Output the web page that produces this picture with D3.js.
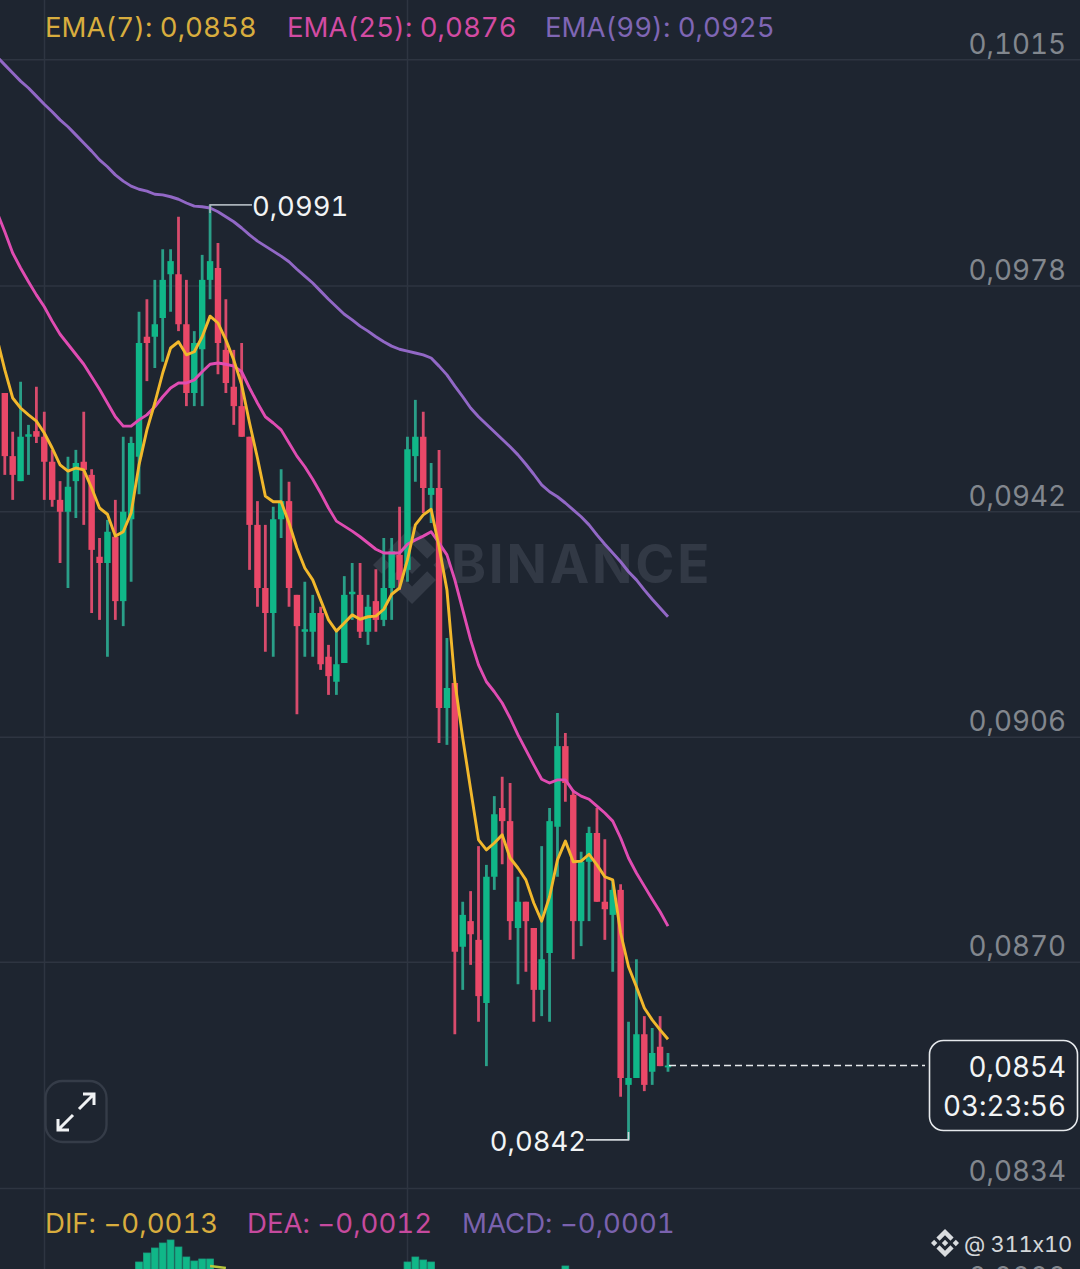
<!DOCTYPE html>
<html>
<head>
<meta charset="utf-8">
<script src="https://cdn.jsdelivr.net/npm/d3@7"></script>
<style>
html, body { margin: 0; padding: 0; background: #1e2530; overflow: hidden; }
svg { display: block; }
text { font-family: Inter, "Noto Sans", sans-serif; font-feature-settings: "tnum" 1, "calt" 0; }
</style>
</head>
<body>
<script>
// Candles, one entry per period
const opens = [0.09612,0.09511,0.09471,0.09542,0.09551,0.09542,0.09502,0.09441,0.09422,0.09471,
0.09502,0.09481,0.0935,0.0934,0.09382,0.09279,0.0941,0.0951,0.09702,0.09702,
0.09732,0.09802,0.09802,0.09722,0.09612,0.09682,0.09793,0.09812,0.09681,0.09622,
0.09591,0.09542,0.09401,0.093,0.0926,0.0941,0.09439,0.09289,0.0923,0.0923,
0.0926,0.0919,0.0915,0.0918,0.0929,0.09289,0.0923,0.09279,0.09249,0.093,
0.09353,0.09329,0.09511,0.09542,0.09449,0.0946,0.09108,0.09148,0.08726,0.08767,
0.08737,0.08636,0.08838,0.08948,0.08927,0.08756,0.08798,0.08756,0.08657,0.08716,
0.08918,0.09047,0.08969,0.08767,0.08862,0.08908,0.08798,0.08777,0.08817,0.08505,
0.08516,0.08586,0.08526,0.08566,0.08533];
const highs = [0.09612,0.0955,0.0963,0.09561,0.09622,0.09582,0.09521,0.09471,0.0951,0.09521,
0.09582,0.0949,0.0938,0.09409,0.09441,0.09542,0.09542,0.09742,0.09762,0.09793,
0.09842,0.09842,0.09894,0.09793,0.09711,0.09833,0.09913,0.09852,0.09762,0.09681,
0.09692,0.09542,0.09439,0.09401,0.0943,0.0949,0.0947,0.09289,0.0931,0.09289,
0.0927,0.09209,0.09233,0.09319,0.0934,0.0934,0.09289,0.0933,0.0938,0.0938,
0.0943,0.09542,0.09601,0.09582,0.095,0.09521,0.0922,0.09148,0.08798,0.08815,
0.08887,0.08857,0.08967,0.08998,0.08988,0.08838,0.08798,0.08756,0.08887,0.08948,
0.091,0.09068,0.08977,0.08878,0.08918,0.08948,0.08898,0.08833,0.08826,0.08606,
0.08706,0.08615,0.08596,0.08615,0.08556];
const lows = [0.09481,0.09441,0.09471,0.09481,0.09532,0.09441,0.0943,0.0934,0.093,0.09412,
0.09401,0.0926,0.09249,0.0919,0.09249,0.09239,0.0931,0.0945,0.09631,0.09652,
0.09662,0.09742,0.09711,0.09591,0.09591,0.09591,0.09762,0.09642,0.09612,0.09561,
0.09542,0.09329,0.0927,0.09198,0.0919,0.0938,0.0927,0.09098,0.0919,0.0919,
0.09169,0.09129,0.09129,0.0918,0.09249,0.0922,0.09209,0.0923,0.09239,0.09249,
0.09297,0.0931,0.0947,0.0942,0.09404,0.09052,0.09049,0.08586,0.08657,0.08697,
0.08606,0.08535,0.08817,0.08858,0.08737,0.08666,0.08686,0.08606,0.08615,0.08606,
0.08838,0.08958,0.08706,0.08727,0.08767,0.08798,0.08737,0.08686,0.08486,0.08417,
0.08516,0.08495,0.08505,0.08535,0.08526];
const closes = [0.09511,0.09481,0.09542,0.09546,0.09542,0.09502,0.09441,0.09422,0.09462,0.095,
0.09489,0.09361,0.0934,0.0939,0.09279,0.09422,0.09532,0.09692,0.09692,0.09722,
0.09793,0.09823,0.09722,0.09612,0.09692,0.09793,0.09823,0.09692,0.09628,0.09591,
0.09542,0.09401,0.093,0.0926,0.0941,0.09439,0.093,0.09239,0.09234,0.0926,
0.09178,0.09159,0.09178,0.09289,0.09294,0.0923,0.0927,0.09249,0.093,0.09359,
0.09313,0.09522,0.09542,0.0946,0.0946,0.09108,0.0914,0.08718,0.08777,0.08746,
0.08647,0.08838,0.08938,0.08927,0.08767,0.08798,0.08767,0.08657,0.08706,0.08927,
0.09047,0.08988,0.08767,0.08862,0.08908,0.08798,0.08786,0.08817,0.08516,0.08516,
0.08586,0.08505,0.08556,0.08535,0.08536];

// EMA lines start one period before the first whole candle, at the left edge
const ema7 = [0.097,0.09649,0.09604,0.09588,0.09577,0.09567,0.09548,0.09524,0.09497,0.09487,0.09492,
0.09489,0.0946,0.09428,0.09418,0.09383,0.0939,0.0942,0.09497,0.09553,0.09596,
0.09644,0.09684,0.09694,0.09673,0.09678,0.09702,0.09735,0.09724,0.09697,0.09665,
0.09625,0.09564,0.09508,0.09447,0.09438,0.09438,0.09404,0.09364,0.09332,0.09313,
0.09281,0.09249,0.09231,0.09244,0.09257,0.0925,0.09254,0.09255,0.09266,0.0929,
0.093,0.09345,0.09401,0.09417,0.09426,0.09366,0.09297,0.0915,0.0906,0.08978,
0.08897,0.08881,0.08892,0.08905,0.08868,0.08852,0.08833,0.08796,0.08767,0.08806,
0.08865,0.08895,0.08862,0.08863,0.08874,0.08857,0.08838,0.08833,0.08748,0.08694,
0.08662,0.08628,0.08609,0.08593,0.08578];
const ema25 = [0.09902,0.0987,0.09836,0.09812,0.0979,0.09769,0.0975,0.09727,0.09706,0.0969,0.09674,
0.09658,0.09638,0.09618,0.09596,0.09574,0.09559,0.09559,0.09569,0.09577,0.0959,
0.09606,0.0962,0.09628,0.09628,0.09633,0.09646,0.09658,0.0966,0.09658,0.09655,
0.09646,0.0962,0.09596,0.09574,0.09564,0.09553,0.09532,0.09511,0.09494,0.09474,
0.09452,0.09428,0.09407,0.09399,0.09391,0.09382,0.09372,0.09362,0.09356,0.09356,
0.09356,0.0937,0.09377,0.09383,0.0939,0.09372,0.09353,0.09313,0.09265,0.09217,
0.09177,0.0915,0.09134,0.09116,0.09092,0.09065,0.09041,0.09017,0.08994,0.08988,
0.08993,0.08993,0.08975,0.08967,0.08962,0.08951,0.0894,0.08927,0.089,0.08868,
0.08844,0.08823,0.08802,0.08782,0.08759];
const ema99 = [0.1015,0.10137,0.10124,0.10111,0.101,0.10087,0.10074,0.10062,0.10049,0.10038,0.10025,
0.10012,0.09999,0.09985,0.09974,0.09961,0.09951,0.09943,0.09938,0.09935,0.0993,
0.09929,0.09926,0.09922,0.09916,0.09911,0.0991,0.09908,0.09902,0.09894,0.09886,
0.09876,0.09865,0.09855,0.09847,0.09839,0.09831,0.09822,0.0981,0.09799,0.09788,
0.09775,0.09762,0.0975,0.09738,0.09729,0.09719,0.09711,0.09702,0.09694,0.09687,
0.09682,0.09679,0.09676,0.09673,0.09668,0.09655,0.09641,0.09623,0.09606,0.09588,
0.09574,0.09562,0.0955,0.09538,0.09526,0.09513,0.09498,0.09482,0.09465,0.09454,
0.09446,0.09436,0.09425,0.09414,0.09401,0.09385,0.0937,0.09356,0.09342,0.09326,
0.09313,0.09297,0.09282,0.09268,0.09254];

const priceTicks = [0.10146, 0.09784, 0.09423, 0.09062, 0.08702, 0.0834];

// MACD histogram, only the tops show above the bottom edge
const macdIndex = [17,18,19,20,21,22,23,24,25,26,51,52,53,54,71];
const macdValues = [0.00008,0.000125,0.00015,0.000175,0.00019,0.000155,0.000105,0.000085,0.000095,0.000095,0.00008,0.000105,0.00009,0.00008,0.00006];
const difIndex = [26, 27, 28];
const difValues = [0.00006, 0.000055, 0.00005];
const macdLegend = [["DIF", -0.0013], ["DEA", -0.0012], ["MACD", -0.0001]];
const macdZero = 0;
const countdown = "03:23:56";
const userTag = "@ 311x10";

const width = 1080, height = 1269;
const bg = "#1e2530", gridColor = "#2e3541";
const greenBody = "#10b788", greenWick = "#2a9f88", redBody = "#ea4868", redWick = "#d84b6c";
const yellow = "#f2b82c", pink = "#e04cb2", purple = "#9268c6";
const labelFont = "Inter, 'Noto Sans', sans-serif";

const fmt = d3.formatLocale({ decimal: ",", thousands: ".", grouping: [3], currency: ["", ""] }).format(".4f");

const x = d3.scaleLinear().domain([0, 84]).range([4.8, 668]);
const y = d3.scaleLinear().domain([0.0834, 0.10146]).range([1188, 59.25]);
const yMacd = d3.scaleLinear().domain([0, 0.0002]).range([1278, 1238]);

const svg = d3.select("body").append("svg").attr("width", width).attr("height", height);
svg.append("rect").attr("width", width).attr("height", height).attr("fill", bg);

// vertical grid
svg.selectAll("line.vgrid").data([44.5, 407.5]).enter().append("line")
    .attr("class", "vgrid")
    .attr("x1", d => d).attr("x2", d => d)
    .attr("y1", 0).attr("y2", height)
    .attr("stroke", gridColor).attr("stroke-width", 1.5);

// price axis
const axis = d3.axisRight(y).tickValues(priceTicks).tickSize(width).tickFormat(fmt);
const axisG = svg.append("g").call(axis);
axisG.select(".domain").remove();
axisG.selectAll(".tick line").attr("stroke", gridColor).attr("stroke-width", 1.5);
axisG.selectAll(".tick text")
    .attr("x", 1066).attr("dy", d => d === 0.0834 ? -8 : -6)
    .attr("text-anchor", "end")
    .attr("fill", "#82878e")
    .style("font-size", "27.8px").style("font-family", labelFont);

// BNB mark, used for the watermark and next to the user tag
const logoPaths = [
    "M38.73 53.2l24.59-24.58 24.6 24.6 14.3-14.31L63.32 0 24.42 38.9z",
    "M0 63.31l14.3-14.31 14.31 14.31-14.31 14.3z",
    "M38.73 73.41l24.59 24.59 24.6-24.6 14.31 14.29-38.9 38.91-38.91-38.88-.02-.02z",
    "M98 63.31l14.3-14.31 14.31 14.31-14.31 14.3z",
    "M77.83 63.3L63.32 48.78 52.59 59.51l-1.24 1.23-2.54 2.54 14.51 14.5 14.51-14.47z"
];
function logo(parent, cx, cy, size, color) {
    const k = size / 126.6;
    parent.append("g")
        .attr("transform", `translate(${cx - size / 2},${cy - size / 2}) scale(${k})`)
        .selectAll("path").data(logoPaths).enter().append("path")
        .attr("d", d => d).attr("fill", color);
}
logo(svg, 412, 565, 78, "#343b47");
svg.append("text").text("BINANCE")
    .attr("x", 451).attr("y", 583)
    .attr("fill", "#323945")
    .style("font-size", "53px").style("font-weight", 700).style("letter-spacing", "2.8px");

// candles
const candles = d3.range(opens.length);
svg.append("g").selectAll("line").data(candles).enter().append("line")
    .attr("x1", i => x(i)).attr("x2", i => x(i))
    .attr("y1", i => y(highs[i])).attr("y2", i => y(lows[i]))
    .attr("stroke", i => closes[i] >= opens[i] ? greenWick : redWick)
    .attr("stroke-width", 2.8);
svg.append("g").selectAll("rect").data(candles).enter().append("rect")
    .attr("x", i => x(i) - 3.2)
    .attr("width", 6.4)
    .attr("y", i => y(Math.max(opens[i], closes[i])))
    .attr("height", i => Math.max(1.5, Math.abs(y(opens[i]) - y(closes[i]))))
    .attr("fill", i => closes[i] >= opens[i] ? greenBody : redBody);

// EMA lines
const emaLine = d3.line().x((d, i) => x(i - 1)).y(d => y(d));
[[ema99, purple], [ema25, pink], [ema7, yellow]].forEach(([values, color]) => {
    svg.append("path").datum(values)
        .attr("d", emaLine)
        .attr("fill", "none")
        .attr("stroke", color)
        .attr("stroke-width", 2.9)
        .attr("stroke-linejoin", "round");
});

// top legend
[["EMA(7)", ema7, 45, "#d8ad3e"], ["EMA(25)", ema25, 287, "#d24ba2"], ["EMA(99)", ema99, 545, "#7f66b4"]].forEach(([name, values, lx, color]) => {
    svg.append("text").text(`${name}: ${fmt(values[values.length - 1])}`)
        .attr("x", lx).attr("y", 37)
        .attr("fill", color)
        .style("font-size", "27.6px");
});

// highest and lowest price marks
const hiIndex = highs.indexOf(d3.max(highs));
const loIndex = lows.indexOf(d3.min(lows));
svg.append("path")
    .attr("d", `M${x(hiIndex)},${y(highs[hiIndex]) + 8}V${y(highs[hiIndex])}H252`)
    .attr("fill", "none").attr("stroke", "#aab2b9").attr("stroke-width", 1.6);
svg.append("text").text(fmt(highs[hiIndex]))
    .attr("x", 252).attr("y", 216).attr("fill", "#f2f4f5").style("font-size", "27.4px");
svg.append("path")
    .attr("d", `M${x(loIndex)},${y(lows[loIndex]) - 8}V${y(lows[loIndex])}H586`)
    .attr("fill", "none").attr("stroke", "#cfd4d8").attr("stroke-width", 1.6);
svg.append("text").text(fmt(lows[loIndex]))
    .attr("x", 586).attr("y", 1151).attr("text-anchor", "end")
    .attr("fill", "#f2f4f5").style("font-size", "27.4px");

// last price line and countdown box
const lastClose = closes[closes.length - 1];
svg.append("line")
    .attr("x1", x(84) + 1).attr("x2", 925)
    .attr("y1", y(lastClose)).attr("y2", y(lastClose))
    .attr("stroke", "#e6e9ec").attr("stroke-width", 1.6).attr("stroke-dasharray", "7 4");
svg.append("rect")
    .attr("x", 929.5).attr("y", 1040.5).attr("width", 148).attr("height", 90).attr("rx", 14)
    .attr("fill", bg).attr("stroke", "#e6e9ec").attr("stroke-width", 1.6);
svg.append("text").text(fmt(lastClose))
    .attr("x", 1066).attr("y", 1077).attr("text-anchor", "end")
    .attr("fill", "#f2f4f5").style("font-size", "27.8px");
svg.append("text").text(countdown)
    .attr("x", 1066).attr("y", 1116).attr("text-anchor", "end")
    .attr("fill", "#f2f4f5").style("font-size", "27.8px");

// expand button
svg.append("rect")
    .attr("x", 45.5).attr("y", 1081).attr("width", 61).attr("height", 61).attr("rx", 17)
    .attr("fill", "none").attr("stroke", "#353c48").attr("stroke-width", 2.4);
svg.append("path")
    .attr("d", "M79 1109L94 1094M83 1094H94V1105M73 1115L58 1130M58 1119V1130H69")
    .attr("fill", "none").attr("stroke", "#f0f2f4").attr("stroke-width", 3);

// MACD panel
const macdColors = ["#d8ad3e", "#c64a9e", "#7a62ae"];
[45, 247, 462].forEach((lx, k) => {
    svg.append("text").text(`${macdLegend[k][0]}: ${fmt(macdLegend[k][1])}`)
        .attr("x", lx).attr("y", 1233)
        .attr("fill", macdColors[k])
        .style("font-size", "27.6px");
});
svg.append("g").selectAll("rect").data(macdIndex).enter().append("rect")
    .attr("x", i => x(i) - 3.4)
    .attr("width", 6.8)
    .attr("y", (i, k) => yMacd(macdValues[k]))
    .attr("height", (i, k) => yMacd(macdZero) - yMacd(macdValues[k]))
    .attr("fill", greenBody)
    .attr("stroke", "#1a9d7f").attr("stroke-width", 0.8);
svg.append("path").datum(difValues)
    .attr("d", d3.line().x((d, k) => x(difIndex[k])).y(d => yMacd(d)))
    .attr("fill", "none").attr("stroke", "#b9c83a").attr("stroke-width", 2.4);

svg.append("text").text(fmt(macdZero))
    .attr("x", 1066).attr("y", 1287).attr("text-anchor", "end")
    .attr("fill", "#82878e").style("font-size", "27.8px");

logo(svg, 945, 1243, 28, "#d9dcdf");
svg.append("text").text(userTag)
    .attr("x", 1072).attr("y", 1252).attr("text-anchor", "end")
    .attr("fill", "#d4d7da").style("font-size", "22px").style("letter-spacing", "-0.3px");
</script>
</body>
</html>
